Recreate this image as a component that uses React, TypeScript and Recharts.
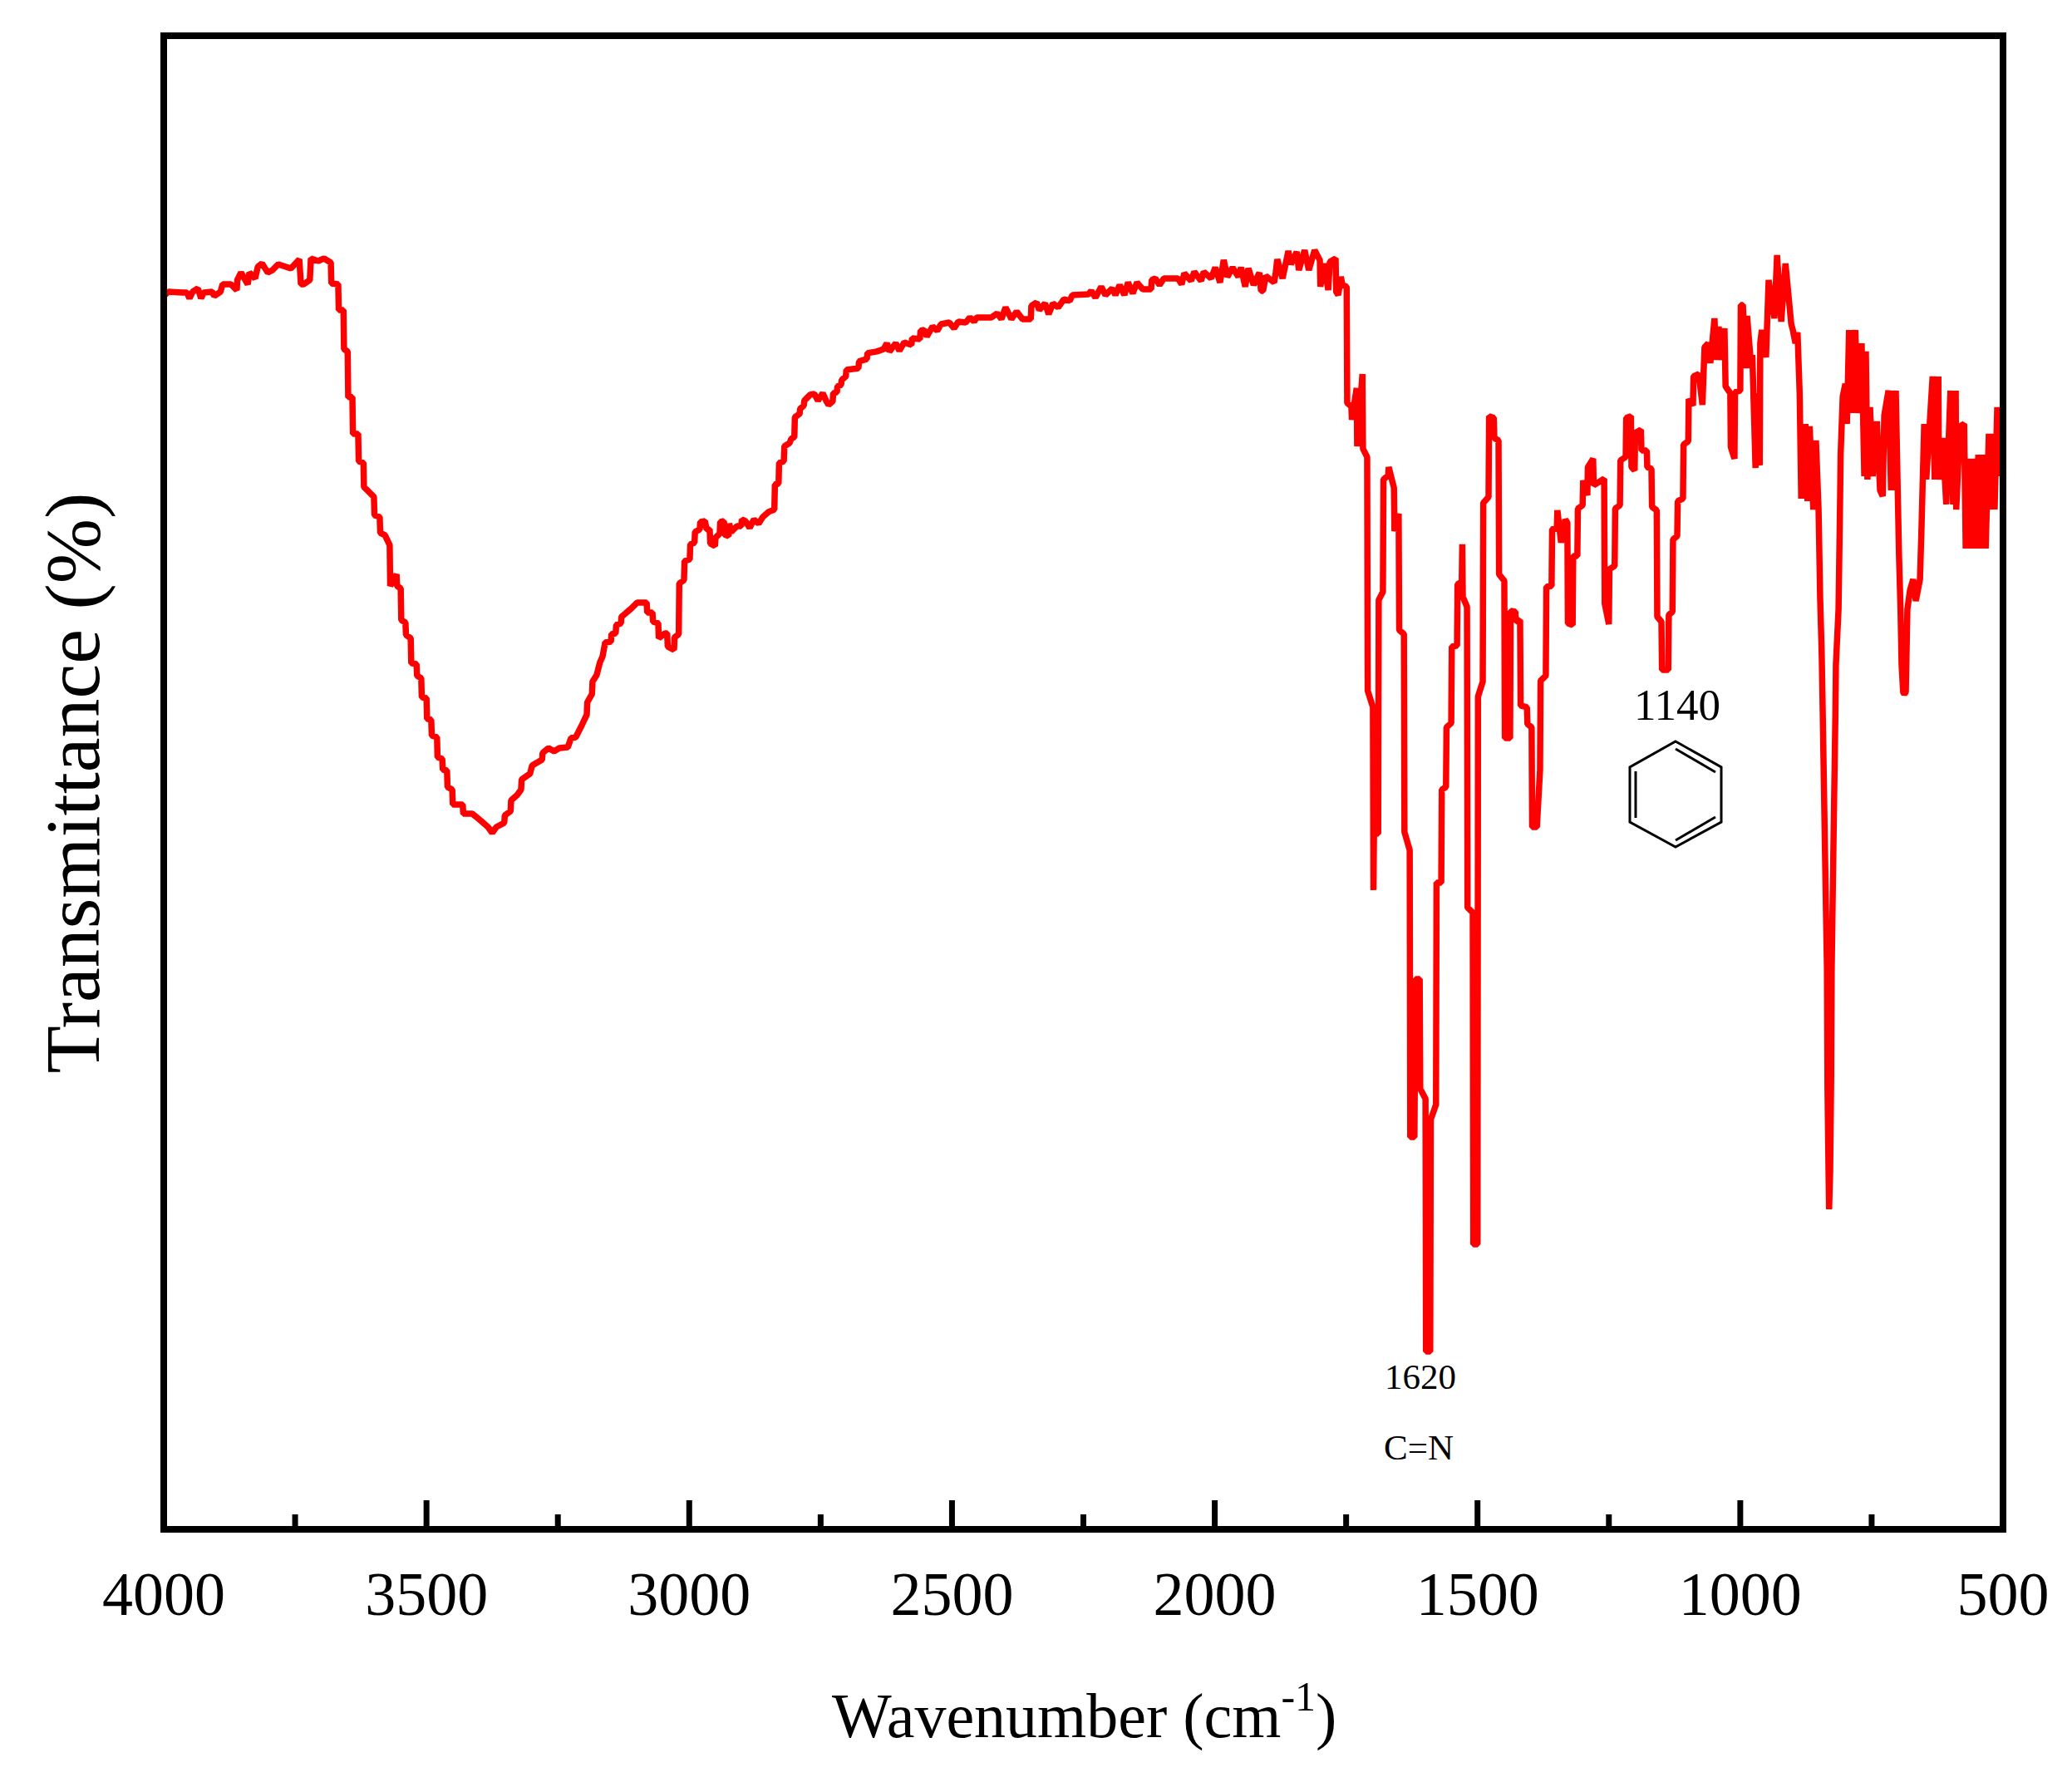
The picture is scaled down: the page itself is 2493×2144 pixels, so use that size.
import { LineChart, Line, XAxis, YAxis } from "recharts";

// values; transmittance is on a 0-100 scale (frame bottom to frame top)
const wavenumbers = [
  3998, 3991, 3964, 3956, 3951, 3945, 3935, 3929, 3924, 3908,
  3904, 3892, 3888, 3872, 3861, 3860, 3853, 3840, 3837, 3826,
  3821, 3813, 3802, 3793, 3782, 3758, 3742, 3739, 3734, 3722,
  3720, 3706, 3695, 3682, 3681, 3668, 3667, 3658, 3657, 3650,
  3649, 3641, 3640, 3630, 3629, 3620, 3619, 3611, 3600, 3599,
  3589, 3588, 3579, 3570, 3569, 3557, 3556, 3549, 3548, 3540,
  3539, 3530, 3529, 3519, 3518, 3510, 3509, 3500, 3499, 3491,
  3490, 3480, 3479, 3470, 3469, 3461, 3460, 3451, 3450, 3431,
  3430, 3413, 3405, 3394, 3383, 3375, 3367, 3352, 3351, 3340,
  3339, 3328, 3320, 3319, 3303, 3299, 3280, 3279, 3268, 3257,
  3247, 3231, 3225, 3216, 3204, 3195, 3194, 3185, 3184, 3176,
  3170, 3165, 3160, 3149, 3148, 3140, 3139, 3130, 3129, 3121,
  3110, 3099, 3081, 3080, 3070, 3069, 3059, 3058, 3046, 3042,
  3041, 3029, 3028, 3020, 3019, 3010, 3009, 2999, 2998, 2990,
  2989, 2980, 2979, 2970, 2967, 2961, 2960, 2951, 2950, 2942,
  2941, 2934, 2933, 2925, 2924, 2920, 2909, 2901, 2900, 2893,
  2885, 2877, 2868, 2860, 2849, 2838, 2837, 2830, 2829, 2820,
  2819, 2809, 2806, 2800, 2799, 2790, 2789, 2782, 2781, 2770,
  2762, 2755, 2746, 2739, 2735, 2727, 2726, 2719, 2718, 2711,
  2710, 2702, 2701, 2678, 2677, 2662, 2661, 2643, 2630, 2624,
  2619, 2607, 2600, 2591, 2577, 2576, 2561, 2560, 2553, 2548,
  2537, 2528, 2521, 2505, 2496, 2488, 2474, 2466, 2458, 2453,
  2425, 2414, 2406, 2398, 2387, 2377, 2366, 2350, 2349, 2339,
  2334, 2323, 2316, 2308, 2298, 2287, 2276, 2271, 2240, 2235,
  2227, 2216, 2208, 2195, 2189, 2181, 2172, 2165, 2156, 2148,
  2137, 2121, 2120, 2113, 2105, 2097, 2070, 2063, 2058, 2045,
  2039, 2026, 2021, 2007, 1999, 1990, 1983, 1976, 1966, 1955,
  1950, 1942, 1936, 1926, 1915, 1912, 1908, 1903, 1887, 1884,
  1881, 1871, 1860, 1855, 1844, 1840, 1829, 1821, 1810, 1800,
  1799, 1792, 1784, 1781, 1770, 1769, 1765, 1760, 1757, 1749,
  1748, 1740, 1739, 1730, 1729, 1719, 1718, 1710, 1709, 1699,
  1698, 1697, 1689, 1688, 1680, 1679, 1670, 1669, 1659, 1658, 1650,
  1649, 1640, 1639, 1629, 1628, 1620, 1618, 1610, 1609, 1599,
  1598, 1590, 1589, 1579, 1578, 1569, 1568, 1560, 1559, 1550,
  1549, 1539, 1538, 1530, 1529, 1528, 1520, 1519, 1509, 1508,
  1500, 1499, 1490, 1489, 1479, 1478, 1469, 1468, 1460, 1459,
  1449, 1448, 1438, 1437, 1428, 1427, 1419, 1418, 1406, 1405,
  1397, 1396, 1387, 1381, 1380, 1370, 1369, 1359, 1358, 1349,
  1348, 1341, 1333, 1329, 1328, 1319, 1318, 1310, 1309, 1300,
  1299, 1291, 1290, 1280, 1279, 1259, 1258, 1250, 1249, 1239,
  1238, 1229, 1228, 1218, 1217, 1208, 1207, 1201, 1200, 1189,
  1188, 1178, 1177, 1169, 1168, 1159, 1158, 1150, 1149, 1137,
  1136, 1129, 1128, 1120, 1119, 1109, 1108, 1099, 1098, 1090,
  1089, 1079, 1072, 1068, 1061, 1057, 1049, 1046, 1041, 1038,
  1030, 1028, 1019, 1018, 1011, 1010, 1000, 999, 995, 990,
  987, 979, 977, 971, 969, 963, 962, 959, 951, 946,
  935, 930, 922, 914, 903, 900, 895, 891, 887, 884,
  876, 872, 868, 861, 856, 851, 848, 845, 843, 837,
  835, 834, 832, 831, 829, 827, 826, 824, 819, 818, 813, 810, 809,
  805, 800, 797, 793, 788, 781, 777, 769, 764, 761,
  758, 753, 748, 740, 734, 729, 726, 718, 713, 710,
  709, 704, 701, 698, 695, 693, 690, 688, 685, 682,
  677, 671, 666, 658, 655, 650, 646, 634, 630, 623,
  622, 615, 608, 600, 595, 590, 589, 582, 574, 571,
  566, 562, 557, 552, 547, 543, 538, 533, 527, 522,
  519, 516, 511, 506, 503, 500,
];

const transmittance = [
  82.64, 82.86, 82.81, 82.81, 82.42, 82.86, 83.08, 82.42, 82.81, 82.86,
  82.58, 82.86, 83.36, 83.36, 82.97, 83.64, 84.14, 83.36, 84.14, 83.75,
  84.53, 84.75, 84.14, 84.31, 84.7, 84.42, 85.03, 83.36, 83.36, 83.64,
  85.09, 84.92, 85.09, 84.81, 83.42, 83.36, 81.64, 81.64, 79.02, 78.86,
  75.8, 75.8, 73.35, 73.35, 71.51, 71.4, 69.79, 69.51, 69.12, 67.89,
  67.78, 66.72, 66.56, 65.89, 63.16, 63.94, 63.16, 63.0, 60.88, 60.71,
  59.88, 59.66, 57.99, 57.93, 57.15, 56.99, 55.71, 55.65, 54.26, 54.2,
  53.15, 53.03, 51.7, 51.59, 50.86, 50.81, 49.7, 49.53, 48.53, 48.53,
  47.91, 47.91, 47.69, 47.36, 47.02, 46.63, 47.02, 47.3, 47.8, 48.08,
  48.81, 49.14, 49.53, 50.2, 50.59, 51.14, 51.53, 51.98, 52.31, 52.09,
  52.31, 52.37, 52.98, 53.03, 53.87, 54.54, 55.37, 55.93, 56.76, 57.21,
  58.04, 58.43, 59.38, 59.43, 59.94, 59.99, 60.55, 60.66, 61.1, 61.33,
  61.66, 62.05, 62.05, 61.38, 61.38, 60.77, 60.66, 59.66, 59.99, 59.99,
  59.1, 58.88, 59.71, 59.94, 63.33, 63.55, 64.83, 64.94, 65.95, 66.06,
  66.78, 66.95, 67.45, 67.5, 66.95, 66.95, 66.0, 65.83, 66.39, 66.67,
  67.45, 67.5, 66.61, 66.5, 67.34, 66.78, 67.17, 67.17, 67.61, 67.5,
  67.06, 67.61, 67.34, 67.78, 68.12, 68.28, 69.95, 70.01, 71.4, 71.51,
  72.51, 72.73, 73.01, 73.13, 74.46, 74.68, 75.02, 75.24, 75.57, 75.96,
  76.02, 75.57, 76.07, 75.52, 75.29, 75.52, 76.07, 76.13, 76.52, 76.63,
  76.96, 77.19, 77.63, 77.74, 78.19, 78.36, 78.75, 78.86, 79.02, 79.41,
  78.86, 79.41, 78.91, 79.47, 79.3, 79.75, 79.69, 80.25, 80.3, 79.86,
  80.53, 80.25, 80.69, 80.8, 80.41, 80.86, 80.8, 81.14, 80.86, 81.14,
  81.14, 81.41, 81.03, 81.81, 81.03, 81.53, 81.03, 81.03, 81.92, 82.14,
  81.64, 82.08, 81.36, 82.08, 81.81, 82.36, 82.25, 82.64, 82.7, 82.92,
  82.47, 83.2, 82.64, 83.08, 82.64, 83.31, 82.64, 83.48, 82.75, 83.48,
  83.03, 83.03, 83.64, 83.75, 83.31, 83.75, 83.75, 83.36, 84.09, 83.59,
  84.2, 83.59, 84.2, 83.75, 84.48, 83.48, 84.98, 83.86, 84.48, 83.86,
  84.48, 83.2, 84.42, 83.31, 84.14, 82.92, 82.92, 83.92, 83.48, 84.14,
  85.03, 83.75, 85.59, 84.7, 85.53, 84.31, 85.64, 84.31, 85.64, 84.98,
  83.2, 84.75, 82.97, 84.87, 85.09, 82.86, 82.64, 83.86, 83.31, 83.2,
  75.41, 75.18, 74.29, 76.41, 72.51, 77.35, 72.35, 71.79, 56.15, 55.04,
  42.8, 46.58, 46.58, 62.22, 62.77, 70.29, 70.56, 71.12, 69.73, 66.83, 68.0,
  60.21, 59.94, 46.69, 45.47, 26.27, 26.27, 36.84, 36.84, 29.49, 28.83,
  11.91, 11.91, 27.44, 28.44, 43.3, 43.3, 49.53, 49.69, 53.7, 53.98,
  59.1, 59.16, 63.27, 63.44, 65.95, 62.44, 61.77, 41.63, 41.29, 19.09,
  19.09, 55.76, 56.76, 68.73, 69.12, 74.52, 74.41, 73.07, 72.9, 63.94,
  63.5, 52.98, 52.98, 61.49, 61.44, 60.77, 60.88, 55.15, 55.04, 53.92,
  53.7, 47.02, 47.02, 50.86, 56.82, 57.15, 63.11, 63.16, 66.95, 67.06,
  68.23, 66.06, 67.61, 67.39, 60.66, 60.55, 65.17, 65.17, 68.34, 68.56,
  70.23, 69.23, 71.12, 71.68, 69.9, 70.34, 61.99, 60.6, 64.28, 64.5,
  68.34, 68.56, 71.57, 71.79, 74.41, 74.52, 71.12, 70.9, 73.4, 73.62,
  72.23, 72.23, 71.12, 71.01, 68.45, 68.23, 61.1, 60.77, 57.54, 57.54,
  61.22, 61.44, 66.28, 66.5, 68.84, 69.01, 72.62, 72.85, 75.68, 75.24,
  77.19, 77.35, 75.29, 79.14, 79.41, 78.08, 81.08, 78.3, 80.53, 78.3,
  80.41, 76.52, 76.07, 72.46, 71.68, 76.13, 76.24, 81.97, 81.97, 77.74,
  81.25, 77.74, 78.63, 71.06, 76.07, 71.23, 79.41, 80.3, 78.47, 83.64,
  81.08, 85.31, 80.86, 84.75, 80.69, 80.3, 79.41, 80.14, 76.07, 69.01,
  74.01, 68.84, 73.85, 68.28, 72.9, 68.28, 62.33, 58.6, 54.54, 41.57,
  37.45, 29.49, 23.93, 21.43, 23.93, 30.33, 37.45, 42.63, 54.54, 57.88, 61.6, 69.01, 71.95,
  75.85, 76.69, 74.01, 80.3, 74.74, 80.3, 74.74, 79.41, 70.51, 78.86,
  70.29, 75.13, 70.51, 74.18, 69.56, 69.17, 74.57, 76.24, 69.56, 76.24,
  69.56, 76.24, 70.67, 65.28, 61.6, 57.88, 56.04, 55.93, 56.04, 61.6,
  62.88, 63.61, 62.16, 63.61, 67.17, 74.01, 70.29, 77.19, 70.29, 77.19,
  70.29, 73.07, 68.62, 76.24, 68.62, 76.24, 68.28, 73.85, 74.01, 65.67,
  71.68, 65.67, 71.68, 65.67, 71.95, 65.67, 71.95, 65.67, 73.35, 68.28,
  73.35, 68.28, 75.13, 70.51, 75.13, 70.51,
];

const xTicks = [4000, 3750, 3500, 3250, 3000, 2750, 2500, 2250, 2000, 1750, 1500, 1250, 1000, 750, 500];
const xLabelled = [4000, 3500, 3000, 2500, 2000, 1500, 1000, 500];

const data = wavenumbers.map((w, i) => ({ wavenumber: w, t: transmittance[i] }));

const SERIF = "'Liberation Serif', serif";

// inward tick mark plus label, longer on the labelled ticks
function XTick({ x, y, payload }: any) {
  const major = xLabelled.includes(payload.value);
  return (
    <g>
      <line x1={x} x2={x} y1={y} y2={y - (major ? 35 : 18)} stroke="#000" strokeWidth={7} />
      {major && (
        <text x={x} y={y + 103} textAnchor="middle" fontFamily={SERIF} fontSize={74} fill="#000">
          {payload.value}
        </text>
      )}
    </g>
  );
}

const frame = { stroke: "#000", strokeWidth: 8, strokeLinecap: "square" as const };

export default function App() {
  return (
    <div style={{ position: "absolute", left: 0, top: 0, width: 2493, height: 2144, background: "#fff" }}>
      <LineChart width={2493} height={2144} data={data} margin={{ top: 42, right: 82, bottom: 303, left: 196 }}>
        <XAxis
          dataKey="wavenumber"
          type="number"
          domain={[500, 4000]}
          reversed
          ticks={xTicks}
          interval={0}
          height={1}
          tickSize={0}
          tickMargin={0}
          tickLine={false}
          tick={<XTick />}
          axisLine={frame}
        />
        <XAxis xAxisId="top" orientation="top" type="number" domain={[500, 4000]} reversed height={1} tick={false} tickLine={false} axisLine={frame} />
        <YAxis type="number" domain={[0, 100]} width={1} tick={false} tickLine={false} axisLine={frame} />
        <YAxis yAxisId="right" orientation="right" type="number" domain={[0, 100]} width={1} tick={false} tickLine={false} axisLine={frame} />
        <Line
          dataKey="t"
          type="linear"
          stroke="#ff0000"
          strokeWidth={7.5}
          strokeLinejoin="bevel"
          dot={false}
          isAnimationActive={false}
        />
      </LineChart>

      <svg width={2493} height={2144} style={{ position: "absolute", left: 0, top: 0, pointerEvents: "none" }}>
        <g fontFamily={SERIF} fill="#000">
          <text x={1001} y={2090} fontSize={76}>
            Wavenumber (cm
            <tspan fontSize={50} dy={-32}>-1</tspan>
            <tspan fontSize={76} dy={32}>)</tspan>
          </text>
          <text transform="translate(119 942) rotate(-90)" textAnchor="middle" fontSize={94}>
            Transmittance (%)
          </text>
          <text x={1709} y={1671} textAnchor="middle" fontSize={43}>1620</text>
          <text x={1707} y={1756} textAnchor="middle" fontSize={43}>C=N</text>
          <text x={2018} y={866} textAnchor="middle" fontSize={53}>1140</text>
        </g>
        {/* benzene ring next to the 1140 label */}
        <g stroke="#000" strokeWidth={3} fill="none">
          <polygon points="2016,892 2071,923 2071,989 2016,1019 1961,989 1961,923" />
          <line x1={2016} y1={901} x2={2064} y2={929} />
          <line x1={1968} y1={928} x2={1968} y2={984} />
          <line x1={2016} y1={1011} x2={2064} y2={983} />
        </g>
      </svg>
    </div>
  );
}
